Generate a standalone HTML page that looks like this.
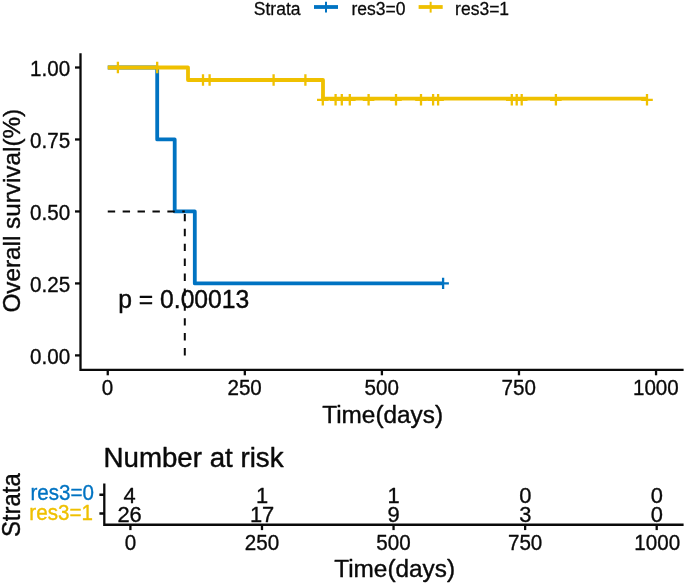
<!DOCTYPE html>
<html lang="en"><head><meta charset="utf-8"><title>Survival plot</title>
<style>html,body{margin:0;padding:0;background:#fff}svg{display:block}text{font-family:"Liberation Sans",sans-serif;fill:#0a0a0a;stroke:#0a0a0a;stroke-linejoin:round}</style>
</head><body>
<svg width="685" height="584" viewBox="0 0 685 584">
<rect width="685" height="584" fill="#fff"/>
<text transform="translate(253.80 14.50) scale(1.0 1.0)" font-size="17.5" stroke-width="0.28">Strata</text>
<text transform="translate(351.40 14.50) scale(1.0 1.0)" font-size="17.5" stroke-width="0.28">res3=0</text>
<text transform="translate(455.10 14.50) scale(1.0 1.0)" font-size="17.5" stroke-width="0.28">res3=1</text>
<path d="M314 7H338" stroke="#0073C2" stroke-width="3.8" fill="none"/>
<path d="M326.0 1.8V12.6" stroke="#0073C2" stroke-width="2.0" fill="none"/>
<path d="M418.6 7H442.7" stroke="#EFC000" stroke-width="3.8" fill="none"/>
<path d="M430.65 1.8V12.6" stroke="#EFC000" stroke-width="2.0" fill="none"/>
<g stroke="#0a0a0a" stroke-width="2.3" fill="none">
<path d="M80.5 53.3V369.9H683.6" stroke-linejoin="miter"/>
<path d="M75 355.40H80.5"/>
<path d="M75 283.42H80.5"/>
<path d="M75 211.45H80.5"/>
<path d="M75 139.47H80.5"/>
<path d="M75 67.50H80.5"/>
<path d="M107.75 369.9V375.3"/>
<path d="M244.82 369.9V375.3"/>
<path d="M381.90 369.9V375.3"/>
<path d="M518.97 369.9V375.3"/>
<path d="M656.05 369.9V375.3"/>
</g>
<text transform="translate(70.20 363.50) scale(1.0 1.07)" font-size="20.6" stroke-width="0.33" text-anchor="end">0.00</text>
<text transform="translate(70.20 291.52) scale(1.0 1.07)" font-size="20.6" stroke-width="0.33" text-anchor="end">0.25</text>
<text transform="translate(70.20 219.55) scale(1.0 1.07)" font-size="20.6" stroke-width="0.33" text-anchor="end">0.50</text>
<text transform="translate(70.20 147.57) scale(1.0 1.07)" font-size="20.6" stroke-width="0.33" text-anchor="end">0.75</text>
<text transform="translate(70.20 75.60) scale(1.0 1.07)" font-size="20.6" stroke-width="0.33" text-anchor="end">1.00</text>
<text transform="translate(107.55 395.40) scale(1.0 1.07)" font-size="20.6" stroke-width="0.33" text-anchor="middle">0</text>
<text transform="translate(244.62 395.40) scale(1.0 1.07)" font-size="20.6" stroke-width="0.33" text-anchor="middle">250</text>
<text transform="translate(381.70 395.40) scale(1.0 1.07)" font-size="20.6" stroke-width="0.33" text-anchor="middle">500</text>
<text transform="translate(518.77 395.40) scale(1.0 1.07)" font-size="20.6" stroke-width="0.33" text-anchor="middle">750</text>
<text transform="translate(655.85 395.40) scale(1.0 1.07)" font-size="20.6" stroke-width="0.33" text-anchor="middle">1000</text>
<text transform="translate(382.60 422.70) scale(1.0 1.02)" font-size="24.35" stroke-width="0.39" text-anchor="middle">Time(days)</text>
<text transform="translate(19.80 210.70) rotate(-90) scale(1.0 1.02)" font-size="24.3" stroke-width="0.39" text-anchor="middle">Overall survival(%)</text>
<path d="M107.75 67.50H157.2V139.47H174.7V211.45H194.8V283.42H443.1" stroke="#0073C2" stroke-width="3.8" fill="none" stroke-linejoin="round"/>
<path d="M443.1 277.72V289.12M437.3 283.42H448.9" stroke="#0073C2" stroke-width="2.3" fill="none"/>
<path d="M107.75 67.50H188.0V80.0H323.0V98.6H647.0" stroke="#EFC000" stroke-width="3.8" fill="none" stroke-linejoin="round"/>
<path d="M117.9 61.80V73.20M112.1 67.50H123.7" stroke="#EFC000" stroke-width="2.3" fill="none"/>
<path d="M157.2 61.80V73.20M151.4 67.50H163.0" stroke="#EFC000" stroke-width="2.3" fill="none"/>
<path d="M203.0 74.30V85.70M197.2 80.00H208.8" stroke="#EFC000" stroke-width="2.3" fill="none"/>
<path d="M209.6 74.30V85.70M203.8 80.00H215.4" stroke="#EFC000" stroke-width="2.3" fill="none"/>
<path d="M273.6 74.30V85.70M267.8 80.00H279.4" stroke="#EFC000" stroke-width="2.3" fill="none"/>
<path d="M305.4 74.30V85.70M299.6 80.00H311.2" stroke="#EFC000" stroke-width="2.3" fill="none"/>
<path d="M322.8 94.10V105.50M317.0 99.80H328.6" stroke="#EFC000" stroke-width="2.3" fill="none"/>
<path d="M335.6 94.10V105.50M329.8 99.80H341.4" stroke="#EFC000" stroke-width="2.3" fill="none"/>
<path d="M341.8 94.10V105.50M336.0 99.80H347.6" stroke="#EFC000" stroke-width="2.3" fill="none"/>
<path d="M349.8 94.10V105.50M344.0 99.80H355.6" stroke="#EFC000" stroke-width="2.3" fill="none"/>
<path d="M368.6 94.10V105.50M362.8 99.80H374.4" stroke="#EFC000" stroke-width="2.3" fill="none"/>
<path d="M396.0 94.10V105.50M390.2 99.80H401.8" stroke="#EFC000" stroke-width="2.3" fill="none"/>
<path d="M421.0 94.10V105.50M415.2 99.80H426.8" stroke="#EFC000" stroke-width="2.3" fill="none"/>
<path d="M433.1 94.10V105.50M427.3 99.80H438.9" stroke="#EFC000" stroke-width="2.3" fill="none"/>
<path d="M438.1 94.10V105.50M432.3 99.80H443.9" stroke="#EFC000" stroke-width="2.3" fill="none"/>
<path d="M511.8 94.10V105.50M506.0 99.80H517.6" stroke="#EFC000" stroke-width="2.3" fill="none"/>
<path d="M516.7 94.10V105.50M510.9 99.80H522.5" stroke="#EFC000" stroke-width="2.3" fill="none"/>
<path d="M521.7 94.10V105.50M515.9 99.80H527.5" stroke="#EFC000" stroke-width="2.3" fill="none"/>
<path d="M555.9 94.10V105.50M550.1 99.80H561.7" stroke="#EFC000" stroke-width="2.3" fill="none"/>
<path d="M647.0 94.10V105.50M641.2 99.80H652.8" stroke="#EFC000" stroke-width="2.3" fill="none"/>
<g stroke="#0a0a0a" stroke-width="2.0" fill="none" stroke-dasharray="7.4 7.5">
<path d="M107.75 211.45H184.8"/>
<path d="M184.8 355.40V211.45"/>
</g>
<text transform="translate(118.20 307.80) scale(1.0 1.07)" font-size="24.7" stroke-width="0.40">p = 0.00013</text>
<text transform="translate(103.50 467.40) scale(1.0 0.98)" font-size="27.7" stroke-width="0.44">Number at risk</text>
<g stroke="#0a0a0a" stroke-width="2.3" fill="none">
<path d="M104.3 483.6V524.75H683.6"/>
<path d="M99.4 494.75H104.3M99.4 513.5H104.3"/>
<path d="M130.40 524.75V530.1"/>
<path d="M261.98 524.75V530.1"/>
<path d="M393.55 524.75V530.1"/>
<path d="M525.13 524.75V530.1"/>
<path d="M656.70 524.75V530.1"/>
</g>
<text transform="translate(94.00 500.20) scale(1.0 1.07)" font-size="20.6" stroke-width="0.33" text-anchor="end" style="fill:#0073C2;stroke:#0073C2">res3=0</text>
<text transform="translate(92.90 519.50) scale(1.0 1.07)" font-size="20.6" stroke-width="0.33" text-anchor="end" style="fill:#EFC000;stroke:#EFC000">res3=1</text>
<text transform="translate(20.00 505.20) rotate(-90) scale(1.0 1.07)" font-size="23.9" stroke-width="0.38" text-anchor="middle">Strata</text>
<text transform="translate(129.60 502.80) scale(1.0 0.98)" font-size="21.9" stroke-width="0.35" text-anchor="middle">4</text>
<text transform="translate(129.60 522.00) scale(1.0 0.98)" font-size="21.9" stroke-width="0.35" text-anchor="middle">26</text>
<text transform="translate(262.08 502.80) scale(1.0 0.98)" font-size="21.9" stroke-width="0.35" text-anchor="middle">1</text>
<text transform="translate(262.08 522.00) scale(1.0 0.98)" font-size="21.9" stroke-width="0.35" text-anchor="middle">17</text>
<text transform="translate(393.65 502.80) scale(1.0 0.98)" font-size="21.9" stroke-width="0.35" text-anchor="middle">1</text>
<text transform="translate(393.65 522.00) scale(1.0 0.98)" font-size="21.9" stroke-width="0.35" text-anchor="middle">9</text>
<text transform="translate(525.23 502.80) scale(1.0 0.98)" font-size="21.9" stroke-width="0.35" text-anchor="middle">0</text>
<text transform="translate(525.23 522.00) scale(1.0 0.98)" font-size="21.9" stroke-width="0.35" text-anchor="middle">3</text>
<text transform="translate(656.80 502.80) scale(1.0 0.98)" font-size="21.9" stroke-width="0.35" text-anchor="middle">0</text>
<text transform="translate(656.80 522.00) scale(1.0 0.98)" font-size="21.9" stroke-width="0.35" text-anchor="middle">0</text>
<text transform="translate(130.40 549.90) scale(1.0 1.07)" font-size="20.6" stroke-width="0.33" text-anchor="middle">0</text>
<text transform="translate(261.98 549.90) scale(1.0 1.07)" font-size="20.6" stroke-width="0.33" text-anchor="middle">250</text>
<text transform="translate(393.55 549.90) scale(1.0 1.07)" font-size="20.6" stroke-width="0.33" text-anchor="middle">500</text>
<text transform="translate(525.13 549.90) scale(1.0 1.07)" font-size="20.6" stroke-width="0.33" text-anchor="middle">750</text>
<text transform="translate(657.20 549.90) scale(1.0 1.07)" font-size="20.6" stroke-width="0.33" text-anchor="middle">1000</text>
<text transform="translate(394.60 577.20) scale(1.0 1.02)" font-size="24.35" stroke-width="0.39" text-anchor="middle">Time(days)</text>
</svg></body></html>
